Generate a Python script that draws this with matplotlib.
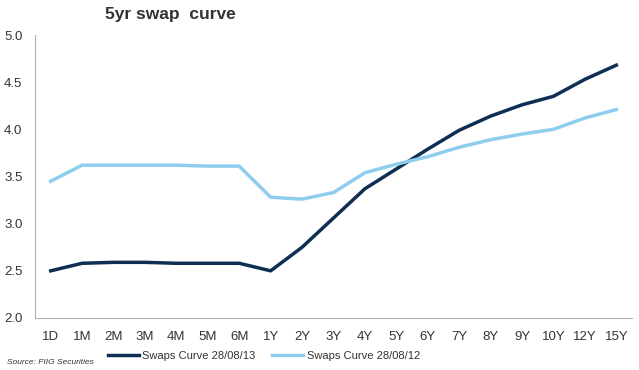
import matplotlib
matplotlib.use("Agg")
from matplotlib import pyplot as plt

plt.rcParams['font.family'] = ['Liberation Sans', 'DejaVu Sans']

# Tenors and swap rates (%)
tenors = ["1D", "1M", "2M", "3M", "4M", "5M", "6M", "1Y", "2Y", "3Y",
          "4Y", "5Y", "6Y", "7Y", "8Y", "9Y", "10Y", "12Y", "15Y"]
curve_2013 = [2.50, 2.58, 2.59, 2.59, 2.58, 2.58, 2.58, 2.50, 2.75, 3.06,
              3.37, 3.58, 3.79, 3.99, 4.14, 4.26, 4.35, 4.53, 4.68]
curve_2012 = [3.45, 3.62, 3.62, 3.62, 3.62, 3.61, 3.61, 3.28, 3.26, 3.33,
              3.54, 3.63, 3.71, 3.81, 3.89, 3.95, 4.00, 4.12, 4.21]

W, H = 639, 370
fig = plt.figure(figsize=(W / 100, H / 100), dpi=100)
ax = fig.add_axes([35 / W, (H - 318) / H, (632 - 35) / W, (318 - 35) / H])

x = range(len(tenors))
ax.plot(x, curve_2013, color="#0e2f53", lw=2.5, label="Swaps Curve 28/08/13")
ax.plot(x, curve_2012, color="#8ecdee", lw=2.5, label="Swaps Curve 28/08/12")

ax.set_ylim(2.0, 5.0)
ax.set_yticks([2.0, 2.5, 3.0, 3.5, 4.0, 4.5, 5.0])
ax.set_yticklabels(["2.0", "2.5", "3.0", "3.5", "4.0", "4.5", "5.0"])
ax.set_xlim(-0.5, len(tenors) - 0.5)
ax.set_xticks(list(x))
ax.set_xticklabels(tenors)

for s in ["top", "right"]:
    ax.spines[s].set_visible(False)
ax.spines["left"].set_color("#b0b0b0")
ax.spines["bottom"].set_color("#b0b0b0")
ax.tick_params(length=0, labelsize=9.5, colors="#333333")
ax.tick_params(axis="x", pad=9)
ax.tick_params(axis="y", pad=9)

fig.text(170 / W, 1 - 14 / H, "5yr swap  curve", ha="center", va="center",
         fontsize=12.5, fontweight="bold", color="#333333")
fig.text(7 / W, 1 - 363 / H, "Source: FIIG Securities", fontsize=6,
         style="italic", color="#333333", va="center")

fig.legend(loc="center", bbox_to_anchor=(264 / W, 1 - 356 / H), ncol=2,
           frameon=False, fontsize=8, handlelength=2.8, handletextpad=0.3,
           columnspacing=1.5, labelcolor="#333333")

fig.savefig("out.png", dpi=100)
